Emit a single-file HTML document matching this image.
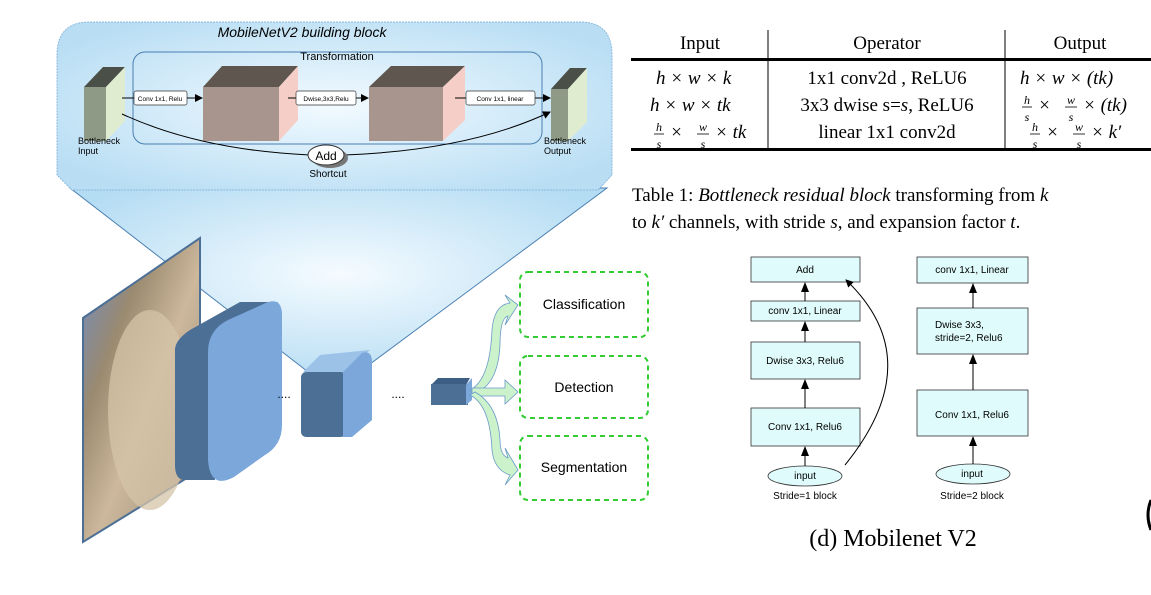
<!DOCTYPE html>
<html><head><meta charset="utf-8"><style>
html,body{margin:0;padding:0;background:#fff}
svg{display:block}
.s{font-family:"Liberation Sans",sans-serif}
.r{font-family:"Liberation Serif",serif}
</style></head><body>
<svg width="1151" height="595" viewBox="0 0 1151 595" xmlns="http://www.w3.org/2000/svg">
<defs>
<radialGradient id="bg" cx="0.5" cy="0.5" r="0.6">
<stop offset="0" stop-color="#f2faff"/><stop offset="1" stop-color="#b9def4"/></radialGradient>
<radialGradient id="fg" cx="0.5" cy="0.45" r="0.6">
<stop offset="0" stop-color="#f5fbff"/><stop offset="1" stop-color="#b4dcf3"/></radialGradient>
<linearGradient id="dog" x1="0" y1="0" x2="1" y2="1">
<stop offset="0" stop-color="#6c8cc8"/><stop offset="0.3" stop-color="#9a8a70"/><stop offset="0.55" stop-color="#cdb89c"/><stop offset="1" stop-color="#8f8270"/></linearGradient>
<marker id="a" markerWidth="8" markerHeight="8" refX="7" refY="4" orient="auto"><path d="M0,0 L8,4 L0,8z" fill="#000"/></marker>
<marker id="b" markerWidth="10" markerHeight="10" refX="9" refY="5" orient="auto"><path d="M0,1 L10,5 L0,9z" fill="#000"/></marker>
</defs>
<!-- funnel -->
<polygon points="70,188 316,378 358,373 607,188" fill="url(#fg)" stroke="#4a7fb0" stroke-width="1"/>
<!-- panel -->
<path d="M90,22 L580,22 Q612,22 612,55 L612,175 L598,190 L72,190 L57,175 L57,55 Q57,22 90,22Z" fill="url(#bg)" stroke="#8ab8dc" stroke-dasharray="2,1"/>
<text x="302" y="37" class="s" font-size="14" font-style="italic" text-anchor="middle">MobileNetV2 building block</text>
<rect x="133" y="52" width="409" height="92" rx="12" fill="none" stroke="#4a7fb0"/>
<text x="337" y="60" class="s" font-size="11" text-anchor="middle">Transformation</text>
<!-- input cube -->
<polygon points="84,87 106,87 125,67 103,67" fill="#4a5048"/>
<polygon points="106,87 125,67 125,121 106,141" fill="#e0ecd0"/>
<rect x="84" y="87" width="22" height="54" fill="#8e9a86"/>
<!-- cube1 -->
<polygon points="203,87 279,87 298,66 222,66" fill="#5f5650"/>
<polygon points="279,87 298,66 298,120 279,141" fill="#f5cfc7"/>
<rect x="203" y="87" width="76" height="54" fill="#a8958e"/>
<!-- cube2 -->
<polygon points="369,87 443,87 465,66 391,66" fill="#5f5650"/>
<polygon points="443,87 465,66 465,120 443,141" fill="#f5cfc7"/>
<rect x="369" y="87" width="74" height="54" fill="#a8958e"/>
<!-- output cube -->
<polygon points="551,89 568,89 587,68 570,68" fill="#4a5048"/>
<polygon points="568,89 587,68 587,122 568,141" fill="#e0ecd0"/>
<rect x="551" y="89" width="17" height="52" fill="#8e9a86"/>
<!-- arrows -->
<line x1="122" y1="98" x2="202" y2="98" stroke="#000" marker-end="url(#a)"/>
<line x1="288" y1="98" x2="368" y2="98" stroke="#000" marker-end="url(#a)"/>
<line x1="455" y1="98" x2="550" y2="98" stroke="#000" marker-end="url(#a)"/>
<rect x="134" y="91" width="53" height="14" rx="2" fill="#fff" stroke="#333" stroke-width="0.7"/>
<text x="160" y="101" class="s" font-size="6.5" text-anchor="middle">Conv 1x1, Relu</text>
<rect x="296" y="91" width="60" height="14" rx="2" fill="#fff" stroke="#333" stroke-width="0.7"/>
<text x="326" y="101" class="s" font-size="6.5" text-anchor="middle">Dwise,3x3,Relu</text>
<rect x="466" y="91" width="69" height="14" rx="2" fill="#fff" stroke="#333" stroke-width="0.7"/>
<text x="500" y="101" class="s" font-size="6.5" text-anchor="middle">Conv 1x1, linear</text>
<path d="M122,114 Q200,150 310,155" fill="none" stroke="#000"/>
<path d="M345,155 Q470,150 550,112" fill="none" stroke="#000" marker-end="url(#a)"/>
<ellipse cx="330" cy="158" rx="18" ry="10" fill="#777"/>
<ellipse cx="326" cy="155" rx="18" ry="10" fill="#fff" stroke="#333"/>
<text x="326" y="160" class="s" font-size="12" text-anchor="middle">Add</text>
<text x="328" y="177" class="s" font-size="10" text-anchor="middle">Shortcut</text>
<text x="78" y="144" class="s" font-size="9">Bottleneck</text>
<text x="78" y="154" class="s" font-size="9">Input</text>
<text x="544" y="144" class="s" font-size="9">Bottleneck</text>
<text x="544" y="154" class="s" font-size="9">Output</text>
<!-- dog image -->
<polygon points="83,318 200,238 200,470 83,542" fill="url(#dog)" stroke="#4c6f96" stroke-width="2"/>
<ellipse cx="150" cy="410" rx="42" ry="100" fill="#d6c4a8" opacity="0.75"/>
<!-- slab -->
<path d="M175,350 Q175,340 190,330 L240,302 L278,302 L215,345 L215,480 L185,480 Q175,480 175,465Z" fill="#4c6f96"/>
<path d="M228,320 L268,302 Q282,298 282,315 L282,425 Q282,445 265,455 L234,477 Q210,490 208,460 L208,352 Q208,330 228,320Z" fill="#7ba7db"/>
<!-- middle block -->
<polygon points="303,372 320,355 370,350 345,372" fill="#9cc2e8"/>
<rect x="301" y="372" width="45" height="65" rx="5" fill="#4c6f96"/>
<path d="M343,372 L362,353 Q372,350 372,362 L372,420 L352,437 L343,437Z" fill="#7ba7db"/>
<text x="284" y="398" class="s" font-size="12" text-anchor="middle">....</text>
<text x="398" y="398" class="s" font-size="12" text-anchor="middle">....</text>
<!-- small block -->
<polygon points="431,385 438,378 470,378 466,385" fill="#3d5f86"/>
<rect x="431" y="384" width="37" height="21" fill="#4c6f96"/>
<polygon points="466,385 472,378 472,400 466,405" fill="#7ba7db"/>
<!-- green arrows -->
<path d="M470,390 Q490,380 492,330 Q494,305 510,303 L505,295 L518,305 L505,325 L508,316 Q500,318 500,345 Q498,385 475,393Z" fill="#ccf2cc" stroke="#6a9ac8" stroke-width="0.8"/>
<path d="M472,388 L505,388 L505,380 L518,392 L505,404 L505,396 L472,396Z" fill="#ccf2cc" stroke="#6a9ac8" stroke-width="0.8"/>
<path d="M470,395 Q490,405 492,450 Q494,470 510,475 L505,485 L518,470 L505,448 L508,458 Q500,455 500,440 Q498,405 475,392Z" fill="#ccf2cc" stroke="#6a9ac8" stroke-width="0.8"/>
<rect x="520" y="272" width="128" height="65" rx="8" fill="none" stroke="#33cc33" stroke-width="2" stroke-dasharray="5,4"/>
<rect x="520" y="356" width="128" height="62" rx="8" fill="none" stroke="#33cc33" stroke-width="2" stroke-dasharray="5,4"/>
<rect x="520" y="436" width="128" height="64" rx="8" fill="none" stroke="#33cc33" stroke-width="2" stroke-dasharray="5,4"/>
<text x="584" y="309" class="s" font-size="14" text-anchor="middle">Classification</text>
<text x="584" y="392" class="s" font-size="14" text-anchor="middle">Detection</text>
<text x="584" y="472" class="s" font-size="14" text-anchor="middle">Segmentation</text>
<!-- table -->
<line x1="768" y1="30" x2="768" y2="150" stroke="#000"/>
<line x1="1005" y1="30" x2="1005" y2="150" stroke="#000"/>
<rect x="631" y="58" width="520" height="3" fill="#000"/>
<rect x="631" y="148" width="520" height="3" fill="#000"/>
<g class="r" font-size="19" text-anchor="middle">
<text x="700" y="49">Input</text><text x="887" y="49">Operator</text><text x="1080" y="49">Output</text>
<text x="887" y="84">1x1 conv2d , ReLU6</text>
<text x="887" y="111">3x3 dwise s=<tspan font-style="italic">s</tspan>, ReLU6</text>
<text x="887" y="138">linear 1x1 conv2d</text>
</g>
<g class="r" font-size="19" font-style="italic">
<text x="656" y="84">h × w × k</text>
<text x="650" y="111">h × w × tk</text>
<text x="1020" y="84">h × w × (tk)</text>
</g>
<!-- fractions -->
<g class="r" font-style="italic" font-size="12" text-anchor="middle">
<text x="659" y="131">h</text><text x="659" y="148">s</text>
<text x="703" y="131">w</text><text x="703" y="148">s</text>
<text x="1027" y="104">h</text><text x="1027" y="121">s</text>
<text x="1071" y="104">w</text><text x="1071" y="121">s</text>
<text x="1035" y="131">h</text><text x="1035" y="148">s</text>
<text x="1079" y="131">w</text><text x="1079" y="148">s</text>
</g>
<g stroke="#000" stroke-width="0.8">
<line x1="654" y1="134" x2="664" y2="134"/><line x1="697" y1="134" x2="709" y2="134"/>
<line x1="1022" y1="107" x2="1032" y2="107"/><line x1="1065" y1="107" x2="1077" y2="107"/>
<line x1="1030" y1="134" x2="1040" y2="134"/><line x1="1073" y1="134" x2="1085" y2="134"/>
</g>
<g class="r" font-size="19" font-style="italic">
<text x="670" y="138">×</text><text x="715" y="138">× tk</text>
<text x="1038" y="111">×</text><text x="1083" y="111">× (tk)</text>
<text x="1046" y="138">×</text><text x="1091" y="138">× k′</text>
</g>
<text x="632" y="201" class="r" font-size="19">Table 1: <tspan font-style="italic">Bottleneck residual block</tspan> transforming from <tspan font-style="italic">k</tspan></text>
<text x="632" y="228" class="r" font-size="19">to <tspan font-style="italic">k′</tspan> channels, with stride <tspan font-style="italic">s</tspan>, and expansion factor <tspan font-style="italic">t</tspan>.</text>
<!-- right diagram -->
<g stroke="#333" fill="#e0fbfb" stroke-width="0.8">
<rect x="751" y="257" width="109" height="25"/>
<rect x="751" y="301" width="109" height="20"/>
<rect x="751" y="342" width="109" height="37"/>
<rect x="751" y="408" width="109" height="38"/>
<ellipse cx="805" cy="476" rx="37" ry="10"/>
<rect x="917" y="257" width="111" height="26"/>
<rect x="917" y="308" width="111" height="46"/>
<rect x="917" y="390" width="111" height="46"/>
<ellipse cx="973" cy="474" rx="37" ry="10"/>
</g>
<g stroke="#000" stroke-width="1">
<line x1="805" y1="466" x2="805" y2="447" marker-end="url(#b)"/>
<line x1="805" y1="408" x2="805" y2="380" marker-end="url(#b)"/>
<line x1="805" y1="342" x2="805" y2="322" marker-end="url(#b)"/>
<line x1="805" y1="301" x2="805" y2="283" marker-end="url(#b)"/>
<line x1="973" y1="464" x2="973" y2="437" marker-end="url(#b)"/>
<line x1="973" y1="390" x2="973" y2="355" marker-end="url(#b)"/>
<line x1="973" y1="308" x2="973" y2="284" marker-end="url(#b)"/>
</g>
<path d="M845,465 Q930,360 846,280" fill="none" stroke="#000" marker-end="url(#a)"/>
<g class="s" font-size="10" text-anchor="middle">
<text x="805" y="273">Add</text>
<text x="805" y="314">conv 1x1, Linear</text>
<text x="805" y="364">Dwise 3x3, Relu6</text>
<text x="805" y="430">Conv 1x1, Relu6</text>
<text x="805" y="479">input</text>
<text x="805" y="499">Stride=1 block</text>
<text x="972" y="273">conv 1x1, Linear</text>
<text x="972" y="477">input</text>
<text x="972" y="499">Stride=2 block</text>
<text x="972" y="418">Conv 1x1, Relu6</text>
</g>
<text x="935" y="328" class="s" font-size="10">Dwise 3x3,</text>
<text x="935" y="341" class="s" font-size="10">stride=2, Relu6</text>
<text x="893" y="546" class="r" font-size="24" text-anchor="middle">(d) Mobilenet V2</text>
<path d="M1151,500 Q1145,515 1151,530" fill="none" stroke="#000" stroke-width="3"/>
</svg>
</body></html>
